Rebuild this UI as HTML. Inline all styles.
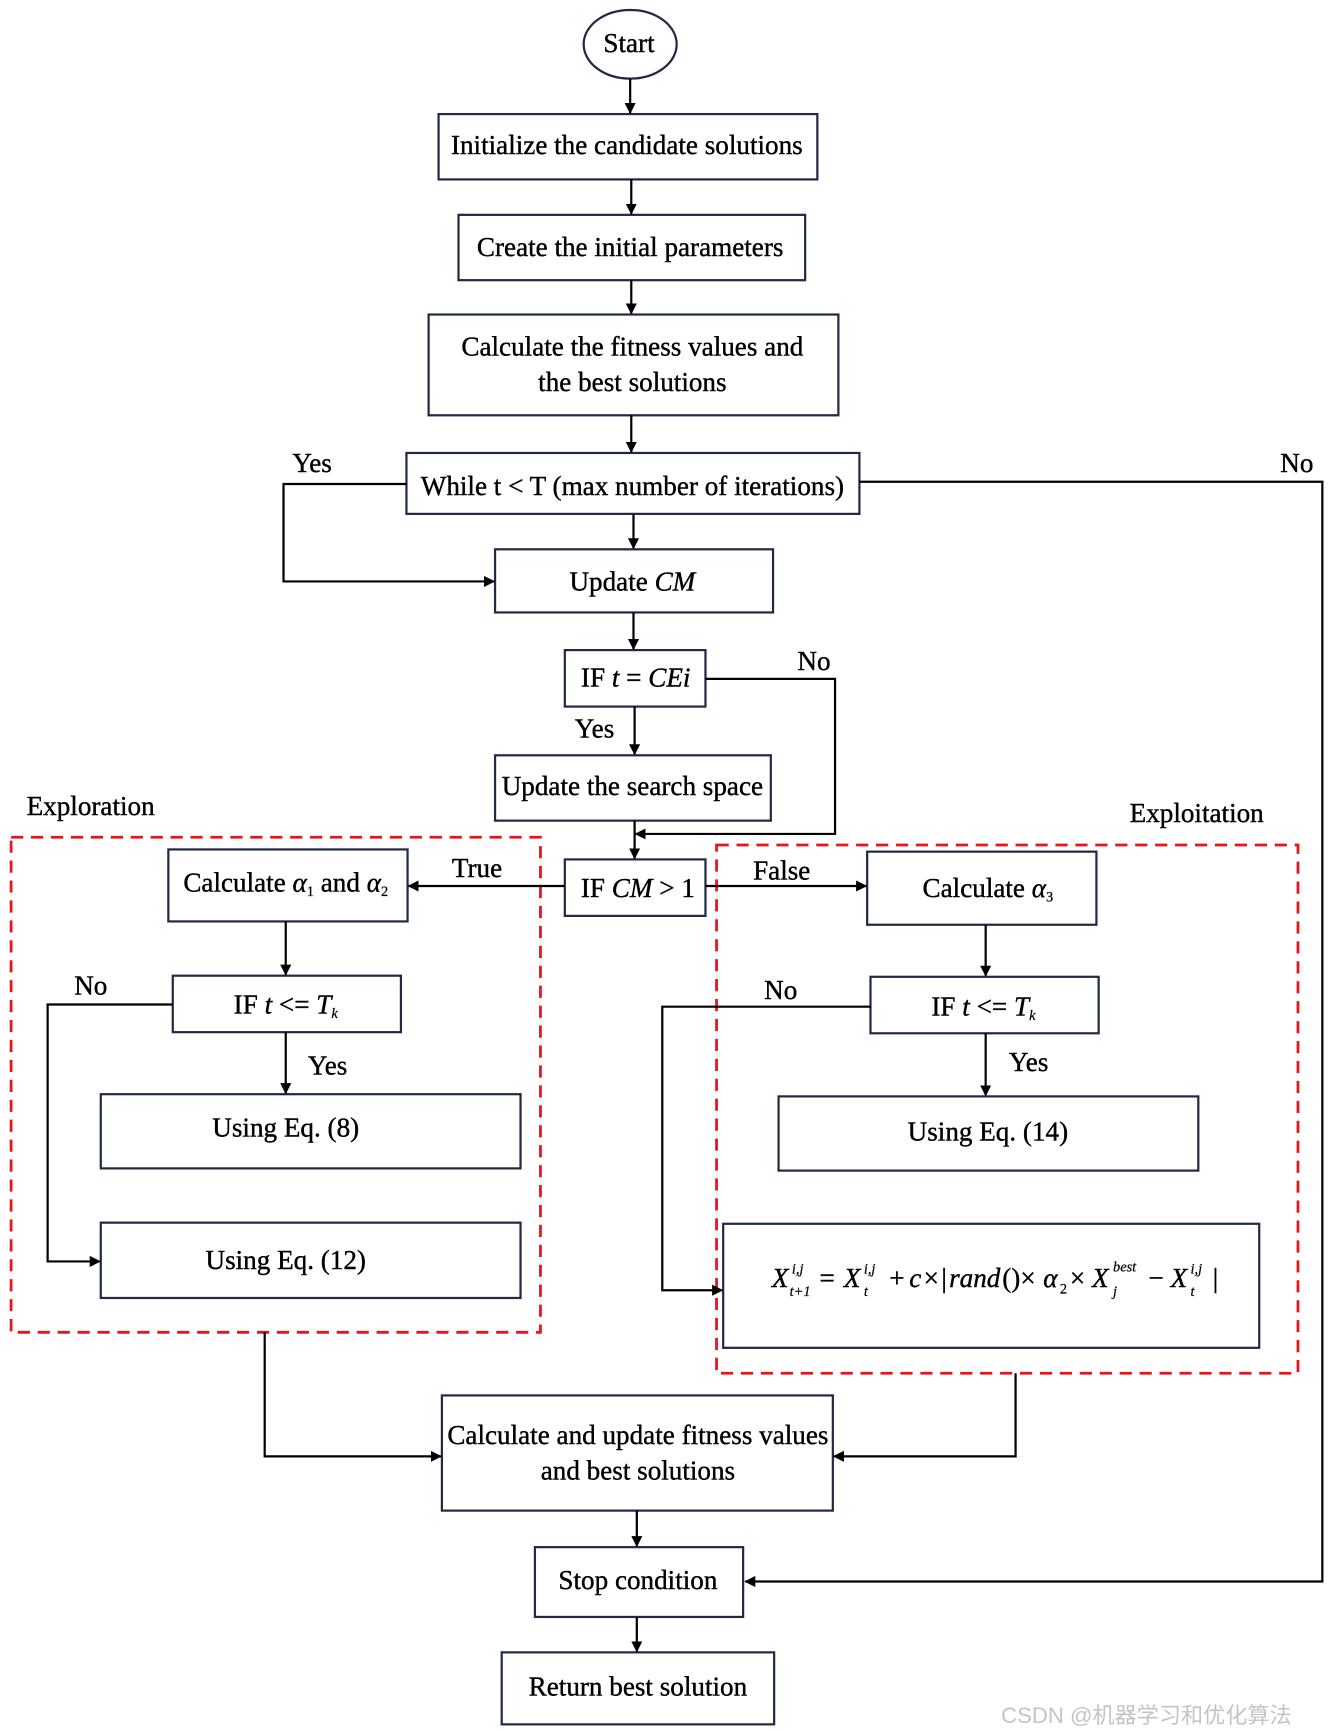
<!DOCTYPE html>
<html><head><meta charset="utf-8"><style>
html,body{margin:0;padding:0;background:#fff;}
svg{display:block;}
text{font-family:"Liberation Serif",serif;font-size:24.5px;fill:#000;stroke:#000;stroke-width:0.35;}
.c{text-anchor:middle;}
.b{fill:#fff;stroke:#1f2a44;stroke-width:2;}
.l{fill:none;stroke:#000;stroke-width:2;}
.d{fill:none;stroke:#e8141b;stroke-width:2.5;stroke-dasharray:11,7;}
.i{font-style:italic;}
.s{font-size:13px;stroke-width:0.2;}
</style></head><body>
<svg width="1329" height="1731" viewBox="0 0 1200 1563" xmlns="http://www.w3.org/2000/svg">
<defs><marker id="a" markerWidth="10" markerHeight="10" refX="9" refY="5" orient="auto" markerUnits="userSpaceOnUse"><path d="M0,0 L10,5 L0,10 z" fill="#000"/></marker></defs>

<rect class="d" x="10" y="756" width="478" height="447"/>
<rect class="d" x="647" y="763" width="525" height="477"/>
<text x="24" y="736">Exploration</text>
<text x="1020" y="742">Exploitation</text>

<ellipse class="b" cx="569" cy="40" rx="42" ry="31"/>
<text class="c" x="568" y="47">Start</text>
<rect class="b" x="396" y="103" width="342" height="59"/>
<text class="c" x="566" y="139">Initialize the candidate solutions</text>
<rect class="b" x="414" y="194" width="313" height="59"/>
<text class="c" x="569" y="231">Create the initial parameters</text>
<rect class="b" x="387" y="284" width="370" height="91"/>
<text class="c" x="571" y="321">Calculate the fitness values and</text>
<text class="c" x="571" y="353">the best solutions</text>
<rect class="b" x="367" y="409" width="409" height="55"/>
<text class="c" x="571" y="447">While t &lt; T (max number of iterations)</text>
<rect class="b" x="447" y="496" width="251" height="57"/>
<text class="c" x="571" y="533">Update <tspan class="i">CM</tspan></text>
<rect class="b" x="510" y="587" width="127" height="51"/>
<text class="c" x="574" y="620">IF <tspan class="i">t</tspan> = <tspan class="i">CEi</tspan></text>
<rect class="b" x="447" y="682" width="249" height="59"/>
<text class="c" x="571" y="718">Update the search space</text>
<rect class="b" x="510" y="776" width="127" height="51"/>
<text class="c" x="576" y="810">IF <tspan class="i">CM</tspan> &gt; 1</text>

<rect class="b" x="152" y="767" width="216" height="65"/>
<text class="c" x="258" y="805">Calculate <tspan class="i">α</tspan><tspan class="s" dy="4">1</tspan><tspan dy="-4"> and </tspan><tspan class="i">α</tspan><tspan class="s" dy="4">2</tspan></text>
<rect class="b" x="156" y="881" width="206" height="51"/>
<text class="c" x="258" y="915">IF <tspan class="i">t</tspan> &lt;= <tspan class="i">T</tspan><tspan class="s i" dy="4">k</tspan></text>
<rect class="b" x="91" y="988" width="379" height="67"/>
<text class="c" x="258" y="1026">Using Eq. (8)</text>
<rect class="b" x="91" y="1104" width="379" height="68"/>
<text class="c" x="258" y="1146">Using Eq. (12)</text>

<rect class="b" x="783" y="769" width="207" height="66"/>
<text class="c" x="892" y="810">Calculate <tspan class="i">α</tspan><tspan class="s" dy="4">3</tspan></text>
<rect class="b" x="786" y="882" width="206" height="51"/>
<text class="c" x="888" y="917">IF <tspan class="i">t</tspan> &lt;= <tspan class="i">T</tspan><tspan class="s i" dy="4">k</tspan></text>
<rect class="b" x="703" y="990" width="379" height="67"/>
<text class="c" x="892" y="1030">Using Eq. (14)</text>
<rect class="b" x="653" y="1105" width="484" height="112"/>
<g>
<text class="i" x="697" y="1162">X</text><text class="s i" x="715" y="1150">i,j</text><text class="s i" x="713" y="1170">t+1</text>
<text x="740" y="1162">=</text>
<text class="i" x="762" y="1162">X</text><text class="s i" x="780" y="1150">i,j</text><text class="s i" x="780" y="1170">t</text>
<text x="803" y="1162">+</text>
<text class="i" x="821" y="1162">c</text>
<text x="834" y="1162">×</text>
<text x="850" y="1162">|</text>
<text class="i" x="857" y="1162">rand</text>
<text x="905" y="1162">()×</text>
<text class="i" x="942" y="1162">α</text><text class="s" x="957" y="1168">2</text>
<text x="966" y="1162">×</text>
<text class="i" x="986" y="1162">X</text><text class="s i" x="1005" y="1148">best</text><text class="s i" x="1005" y="1170">j</text>
<text x="1037" y="1162">−</text>
<text class="i" x="1057" y="1162">X</text><text class="s i" x="1075" y="1150">i,j</text><text class="s i" x="1075" y="1170">t</text>
<text x="1095" y="1162">|</text>
</g>

<rect class="b" x="399" y="1260" width="353" height="104"/>
<text class="c" x="576" y="1304">Calculate and update fitness values</text>
<text class="c" x="576" y="1336">and best solutions</text>
<rect class="b" x="483" y="1397" width="188" height="63"/>
<text class="c" x="576" y="1435">Stop condition</text>
<rect class="b" x="453" y="1492" width="246" height="65"/>
<text class="c" x="576" y="1531">Return best solution</text>

<g class="l">
<line x1="569" y1="71" x2="569" y2="102" marker-end="url(#a)"/>
<line x1="570" y1="162" x2="570" y2="193" marker-end="url(#a)"/>
<line x1="570" y1="253" x2="570" y2="283" marker-end="url(#a)"/>
<line x1="570" y1="375" x2="570" y2="408" marker-end="url(#a)"/>
<polyline points="367,437 256,437 256,525 446,525" marker-end="url(#a)"/>
<polyline points="776,435 1194,435 1194,1428 673,1428" marker-end="url(#a)"/>
<line x1="572" y1="464" x2="572" y2="495" marker-end="url(#a)"/>
<line x1="572" y1="553" x2="572" y2="586" marker-end="url(#a)"/>
<polyline points="637,613 754,613 754,753 574,753" marker-end="url(#a)"/>
<line x1="573" y1="638" x2="573" y2="681" marker-end="url(#a)"/>
<line x1="573" y1="741" x2="573" y2="775" marker-end="url(#a)"/>
<line x1="510" y1="800" x2="369" y2="800" marker-end="url(#a)"/>
<line x1="637" y1="800" x2="782" y2="800" marker-end="url(#a)"/>
<line x1="258" y1="832" x2="258" y2="880" marker-end="url(#a)"/>
<polyline points="156,907 43,907 43,1139 90,1139" marker-end="url(#a)"/>
<line x1="258" y1="932" x2="258" y2="987" marker-end="url(#a)"/>
<line x1="890" y1="835" x2="890" y2="881" marker-end="url(#a)"/>
<polyline points="786,909 598,909 598,1165 652,1165" marker-end="url(#a)"/>
<line x1="890" y1="933" x2="890" y2="989" marker-end="url(#a)"/>
<polyline points="239,1203 239,1315 398,1315" marker-end="url(#a)"/>
<polyline points="917,1240 917,1315 753,1315" marker-end="url(#a)"/>
<line x1="575" y1="1364" x2="575" y2="1396" marker-end="url(#a)"/>
<line x1="575" y1="1460" x2="575" y2="1491" marker-end="url(#a)"/>
</g>

<text x="264" y="426">Yes</text>
<text x="1156" y="426">No</text>
<text x="720" y="605">No</text>
<text x="519" y="666">Yes</text>
<text x="408" y="792">True</text>
<text x="680" y="794">False</text>
<text x="67" y="898">No</text>
<text x="278" y="970">Yes</text>
<text x="690" y="902">No</text>
<text x="911" y="967">Yes</text>
<text x="904" y="1556" style="font-family:'Liberation Sans','Noto Sans CJK SC',sans-serif;font-size:20px;fill:#c4c4c4;stroke:none">CSDN @机器学习和优化算法</text>
</svg>
</body></html>
